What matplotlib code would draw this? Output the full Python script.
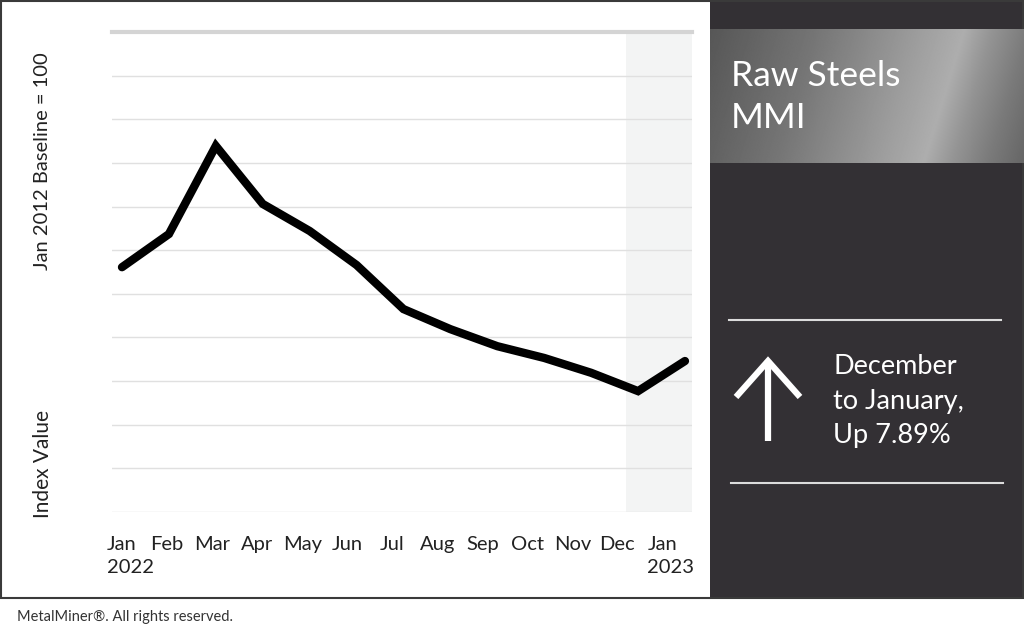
import numpy as np
import matplotlib.pyplot as plt
from matplotlib.patches import Rectangle

plt.rcParams['font.family'] = ['Lato', 'DejaVu Sans']

# data (index values, Jan 2012 = 100)
months = ['Jan', 'Feb', 'Mar', 'Apr', 'May', 'Jun', 'Jul', 'Aug', 'Sep', 'Oct', 'Nov', 'Dec', 'Jan']
years = ['2022', '2023']
index_values = [116.1, 123.7, 143.9, 130.6, 124.4, 116.6, 106.5, 101.9, 98.0, 95.3, 91.9, 87.7, 94.6]
grid_values = list(range(60, 171, 10))
title_text = 'Raw Steels\nMMI'
change_text = 'December\nto January,\nUp 7.89%'

W, H = 1024, 626
fig = plt.figure(figsize=(W / 100, H / 100), dpi=100)
fig.patch.set_facecolor('white')

# background axes in pixel coords for the panels
bg = fig.add_axes([0, 0, 1, 1], zorder=0)
bg.set_xlim(0, W)
bg.set_ylim(H, 0)
bg.axis('off')

dark = '#333034'
bg.add_patch(Rectangle((710, 0), W - 710, 598, facecolor=dark, edgecolor='none'))
bg.add_patch(Rectangle((1, 1), W - 2, 597, facecolor='none', edgecolor='#3a3a3a', lw=1.5))

# gradient title box
gx = np.linspace(0, 1, 320)
gy = np.linspace(0, 1, 140)
X, Y = np.meshgrid(gx, gy)
t = (X * 314 + 0.3 * Y * 134) / (314 + 40)
vals = np.interp(t, [0, 0.3, 0.6, 0.72, 0.8, 0.9, 1.0], [0.34, 0.46, 0.62, 0.68, 0.58, 0.48, 0.40])
bg.imshow(vals, cmap='gray', vmin=0, vmax=1, extent=[710, W, 163, 29], aspect='auto', zorder=1)
bg.text(731, 97, title_text, color='white', fontsize=25.5, va='center', ha='left',
        linespacing=1.4, zorder=2)

# separator lines
bg.plot([729, 1001], [320, 320], color='#dcdcdc', lw=1.5)
bg.plot([731, 1003], [483, 483], color='#dcdcdc', lw=1.5)

# up arrow
bg.plot([768, 768], [360, 441], color='white', lw=4.5, solid_capstyle='butt')
bg.plot([736, 768, 800], [397, 361, 397], color='white', lw=4.5,
        solid_joinstyle='miter', solid_capstyle='butt')
bg.text(833, 401, change_text, color='white', fontsize=19.5, va='center', ha='left',
        linespacing=1.45)

# footer
bg.text(17, 617, 'MetalMiner®. All rights reserved.', fontsize=10.5, color='#333333',
        va='center', ha='left')

# y-axis labels
bg.text(43, 161, 'Jan 2012 Baseline = 100', rotation=90, fontsize=14.5, color='#222222',
        ha='center', va='center')
bg.text(43, 464, 'Index Value', rotation=90, fontsize=15, color='#222222',
        ha='center', va='center')

# chart axes
ax = fig.add_axes([112 / W, (H - 512) / H, 580 / W, 480 / H], zorder=2)
ax.patch.set_alpha(0)
x = np.arange(len(index_values))
ax.set_xlim(-0.213, 12.15)
ax.set_ylim(grid_values[0], grid_values[-1])

ax.axvspan(10.74, 12.15, color='#f3f4f4', zorder=0, lw=0)
for g in grid_values[:-1]:
    ax.axhline(g, color='#e0e0e0', lw=1, zorder=1)
ax.axhline(grid_values[-1], color='#d4d4d4', lw=3, zorder=1, clip_on=False)

ax.plot(x, index_values, color='black', lw=6, solid_joinstyle='miter',
        solid_capstyle='round', zorder=3)

ax.set_yticks([])
ax.set_xticks(x * 0.96)
ax.set_xticklabels(months, fontsize=14.5, color='#222222')
ax.tick_params(axis='x', length=0, pad=17)
for s in ax.spines.values():
    s.set_visible(False)

ax.text(-0.33, -0.115, years[0], transform=ax.get_xaxis_transform(), fontsize=14.5,
        color='#222222', ha='left', va='center')
ax.text(12.2, -0.115, years[1], transform=ax.get_xaxis_transform(), fontsize=14.5,
        color='#222222', ha='right', va='center')

fig.savefig('out.png', dpi=100)
